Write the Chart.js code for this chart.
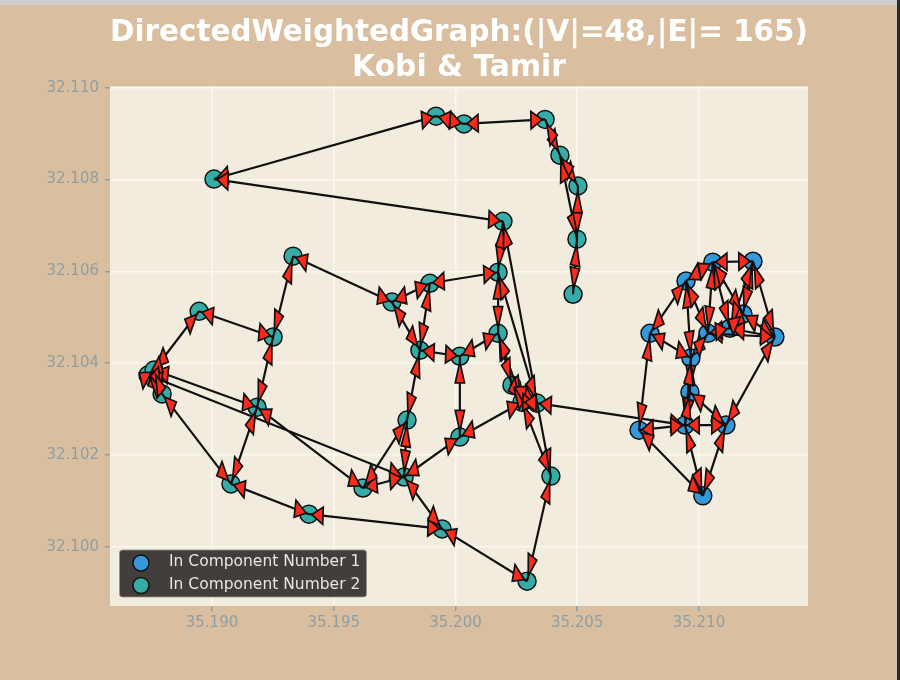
<!DOCTYPE html>
<html>
<head>
<meta charset="utf-8">
<script src="https://cdn.jsdelivr.net/npm/chart.js@4"></script>
<style>
  html, body { margin: 0; padding: 0; background: #d9bf9f; overflow: hidden; }
  #wrap { position: relative; width: 900px; height: 680px; }
  #topbar { position: absolute; left: 0; top: 0; width: 900px; height: 5px; background: #cfcfcf; }
  #sidebar { position: absolute; right: 0; top: 0; width: 3px; height: 680px; background: #2b2b2b; }
</style>
</head>
<body>
<div id="wrap">
  <canvas id="graphChart" width="900" height="680"></canvas>
  <div id="topbar"></div>
  <div id="sidebar"></div>
</div>
<script>
// node positions (longitude, latitude)
const comp1X = [35.20799, 35.20947, 35.21057, 35.21222, 35.21312, 35.21181, 35.21127,
                35.21037, 35.20967, 35.20963, 35.20943, 35.21111, 35.20754, 35.21016];
const comp1Y = [32.10465, 32.10579, 32.10620, 32.10622, 32.10457, 32.10507, 32.10476,
                32.10465, 32.10411, 32.10337, 32.10265, 32.10265, 32.10254, 32.10111];
const comp2X = [35.19008, 35.19920, 35.20035, 35.20368, 35.20429, 35.20503, 35.20499,
                35.20483, 35.20195, 35.20175, 35.20175, 35.19333, 35.19739, 35.19895,
                35.18947, 35.19251, 35.19854, 35.20018, 35.20232, 35.20273, 35.20335,
                35.20392, 35.20294, 35.20018, 35.19801, 35.19789, 35.19945, 35.19620,
                35.19398, 35.19078, 35.19185, 35.18795, 35.18737, 35.18762];
const comp2Y = [32.10801, 32.10938, 32.10921, 32.10931, 32.10853, 32.10786, 32.10670,
                32.10550, 32.10709, 32.10598, 32.10465, 32.10633, 32.10533, 32.10574,
                32.10513, 32.10457, 32.10428, 32.10415, 32.10352, 32.10315, 32.10313,
                32.10154, 32.09925, 32.10239, 32.10276, 32.10152, 32.10039, 32.10128,
                32.10071, 32.10137, 32.10304, 32.10333, 32.10374, 32.10385];

// links, both directions drawn. indices: comp2 first (0-33), then comp1 (34-47)
const linkA = [0, 0, 1, 2, 3, 4, 4, 5, 6, 8, 9, 8, 9, 10, 10, 19,
               10, 17, 17, 16, 16, 16, 12, 13, 12, 11, 15, 15, 14,
               33, 32, 31, 30, 30, 29, 28, 26, 26, 22, 27, 27, 24, 25, 23, 18, 18, 19, 32, 32, 33,
               20,
               34, 34, 34, 35, 35, 35, 36, 36, 36, 36, 37, 37, 37, 38, 38, 38, 38, 39, 40, 41, 42, 42, 43, 43, 44, 44, 44, 45, 46];
const linkB = [1, 8, 2, 3, 4, 5, 6, 6, 7, 9, 10, 21, 20, 18, 19, 21,
               17, 16, 23, 12, 13, 24, 13, 9, 11, 15, 14, 30, 33,
               30, 25, 29, 29, 27, 28, 26, 25, 22, 21, 25, 24, 25, 23, 19, 19, 20, 20, 33, 31, 31,
               44,
               35, 46, 42, 36, 42, 41, 37, 41, 40, 39, 39, 40, 38, 40, 39, 41, 45, 40, 41, 42, 43, 44, 45, 44, 45, 46, 47, 47, 47];

const xTicks = [35.190, 35.195, 35.200, 35.205, 35.210];
const yTicks = [32.100, 32.102, 32.104, 32.106, 32.108, 32.110];
const titleLines = ['DirectedWeightedGraph:(|V|=48,|E|= 165)', 'Kobi & Tamir'];
const legendNames = ['In Component Number 1', 'In Component Number 2'];

const BLUE = '#3498db';
const TEAL = '#35aca6';
const TICK = '#8f9ea3';
const FONT = '"DejaVu Sans", sans-serif';

// arrow head size, in data units like the original, so heads stretch with the axes
const HEAD_GAP = 0.00012;
const HEAD_LENGTH = 0.00046;
const HEAD_HALF_WIDTH = 0.00019;

const allX = comp2X.concat(comp1X);
const allY = comp2Y.concat(comp1Y);

// one line with gaps between the links
const edgeData = [];
linkA.forEach((a, i) => {
    const b = linkB[i];
    edgeData.push({ x: allX[a], y: allY[a] }, { x: allX[b], y: allY[b] }, { x: null, y: null });
});

function drawHead(chart, from, to) {
    const sx = chart.scales.x, sy = chart.scales.y;
    const dx = allX[to] - allX[from], dy = allY[to] - allY[from];
    const len = Math.hypot(dx, dy);
    const ux = dx / len, uy = dy / len;
    const tipX = allX[to] - ux * HEAD_GAP, tipY = allY[to] - uy * HEAD_GAP;
    const baseX = tipX - ux * HEAD_LENGTH, baseY = tipY - uy * HEAD_LENGTH;
    const c = chart.ctx;
    c.beginPath();
    c.moveTo(sx.getPixelForValue(tipX), sy.getPixelForValue(tipY));
    c.lineTo(sx.getPixelForValue(baseX - uy * HEAD_HALF_WIDTH), sy.getPixelForValue(baseY + ux * HEAD_HALF_WIDTH));
    c.lineTo(sx.getPixelForValue(baseX + uy * HEAD_HALF_WIDTH), sy.getPixelForValue(baseY - ux * HEAD_HALF_WIDTH));
    c.closePath();
    c.fill();
    c.stroke();
}

// every link gets a head at both of its ends
const arrowHeads = {
    id: 'arrowHeads',
    afterDatasetsDraw(chart) {
        const c = chart.ctx;
        c.save();
        c.fillStyle = '#fb2a1b';
        c.strokeStyle = '#111';
        c.lineWidth = 1.7;
        linkA.forEach((a, i) => {
            drawHead(chart, a, linkB[i]);
            drawHead(chart, linkB[i], a);
        });
        c.restore();
    }
};

const plotBackground = {
    id: 'plotBackground',
    beforeDraw(chart) {
        const a = chart.chartArea;
        chart.ctx.save();
        chart.ctx.fillStyle = '#f2ecdf';
        chart.ctx.fillRect(a.left, a.top, a.width, a.height);
        chart.ctx.restore();
    }
};

// dark legend in the lower left corner
const darkLegend = {
    id: 'darkLegend',
    beforeDatasetsDraw(chart) {
        const c = chart.ctx;
        c.save();
        c.fillStyle = 'rgba(52, 48, 46, 0.93)';
        c.strokeStyle = 'rgba(150, 145, 140, 0.8)';
        c.lineWidth = 1;
        c.beginPath();
        c.roundRect(119.5, 550, 247, 47, 3);
        c.fill();
        c.stroke();
        [BLUE, TEAL].forEach((col, i) => {
            const y = 563 + i * 22.5;
            c.beginPath();
            c.arc(141, y, 8, 0, Math.PI * 2);
            c.fillStyle = col;
            c.fill();
            c.lineWidth = 1.5;
            c.strokeStyle = '#111';
            c.stroke();
            c.fillStyle = '#e9e6df';
            c.font = '15.5px ' + FONT;
            c.textAlign = 'left';
            c.textBaseline = 'middle';
            c.fillText(legendNames[i], 169, y - 1);
        });
        c.restore();
    }
};

const nodeStyle = { showLine: false, pointRadius: 9, pointBorderColor: '#111', pointBorderWidth: 1.5 };

new Chart(document.getElementById('graphChart'), {
    type: 'scatter',
    data: {
        datasets: [
            {
                label: 'Edges',
                data: edgeData,
                order: 2,
                showLine: true,
                spanGaps: false,
                borderColor: '#111',
                borderWidth: 2.2,
                pointRadius: 0
            },
            { label: legendNames[0], data: comp1X.map((x, i) => ({ x: x, y: comp1Y[i] })), order: 3, backgroundColor: BLUE, ...nodeStyle },
            { label: legendNames[1], data: comp2X.map((x, i) => ({ x: x, y: comp2Y[i] })), order: 3, backgroundColor: TEAL, ...nodeStyle }
        ]
    },
    options: {
        responsive: false,
        animation: false,
        layout: { padding: { left: 0, right: 92, top: 0, bottom: 0 } },
        scales: {
            x: {
                type: 'linear',
                min: 35.18581,
                max: 35.21448,
                afterBuildTicks: s => { s.ticks = xTicks.map(v => ({ value: v })); },
                afterFit: s => { s.height = 74; },
                border: { display: false },
                grid: { color: '#fbf8f0', lineWidth: 1.5, tickColor: TICK, tickLength: 5, tickWidth: 1.5 },
                ticks: {
                    color: TICK,
                    font: { family: FONT, size: 15 },
                    padding: 3,
                    autoSkip: false,
                    maxRotation: 0,
                    callback: v => v.toFixed(3)
                }
            },
            y: {
                type: 'linear',
                min: 32.09871,
                max: 32.11003,
                afterBuildTicks: s => { s.ticks = yTicks.map(v => ({ value: v })); },
                afterFit: s => { s.width = 110; },
                border: { display: false },
                grid: { color: '#fbf8f0', lineWidth: 1.5, tickColor: TICK, tickLength: 5, tickWidth: 1.5 },
                ticks: {
                    color: TICK,
                    font: { family: FONT, size: 15 },
                    padding: 6,
                    autoSkip: false,
                    callback: v => v.toFixed(3)
                }
            }
        },
        plugins: {
            legend: { display: false },
            tooltip: { enabled: false },
            title: {
                display: true,
                text: titleLines,
                color: '#ffffff',
                fullSize: false,
                font: { family: FONT, size: 29.8, weight: 'bold', lineHeight: 1.18 },
                padding: { top: 16, bottom: 0 }
            }
        }
    },
    plugins: [plotBackground, darkLegend, arrowHeads]
});
</script>
</body>
</html>
